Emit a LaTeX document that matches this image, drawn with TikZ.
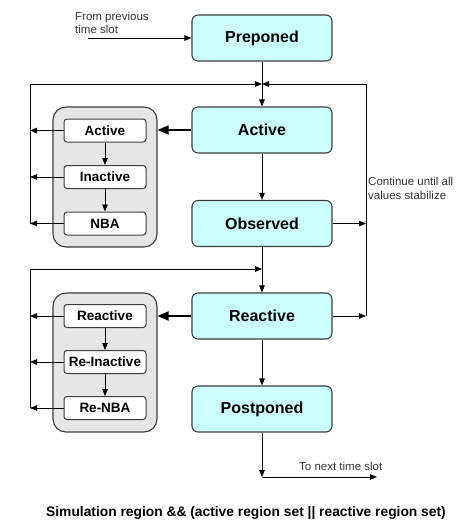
\documentclass[tikz,border=0pt]{standalone}
\usepackage{fontspec}
\setmainfont{Liberation Sans}
\usepackage{tikz}
\usetikzlibrary{positioning,calc,arrows.meta}
\definecolor{RegionCyan}{RGB}{204,255,255}
\definecolor{SetGray}{RGB}{230,230,230}
\definecolor{EdgeGray}{RGB}{60,60,60}
\definecolor{NoteGray}{RGB}{50,50,50}

\begin{document}
\begin{tikzpicture}[
    x=1pt, y=-1pt,
    >={Triangle[length=7pt,width=5.5pt]},
    region/.style={
        draw=EdgeGray,
        rounded corners=6pt,
        line width=1.1pt,
        align=center,
        minimum width=140pt,
        minimum height=46pt,
        fill=RegionCyan,
        font=\fontsize{16pt}{18pt}\selectfont\bfseries
    },
    regionset/.style={
        draw=EdgeGray,
        rounded corners=13pt,
        line width=1.1pt,
        minimum width=104pt,
        fill=SetGray
    },
    subregion/.style={
        draw=EdgeGray,
        rounded corners=3pt,
        line width=1pt,
        align=center,
        minimum width=82pt,
        minimum height=23pt,
        inner sep=1pt,
        fill=white,
        font=\fontsize{13.5pt}{15pt}\selectfont\bfseries
    },
    note/.style={
        align=left,
        inner sep=0pt,
        text=NoteGray,
        font=\fontsize{11.5pt}{13.5pt}\selectfont
    },
    arrow/.style={->, line width=0.8pt},
    fatarrow/.style={-{Triangle[length=11pt,width=9pt]}, line width=2pt}
]
\useasboundingbox (0,0) rectangle (474,527);

% main regions
\node[region] (pre) at (262,38) {Preponed};
\node[region] (act) at (262,130) {Active};
\node[region] (obs) at (262,223.5) {Observed};
\node[region] (rea) at (262,316) {Reactive};
\node[region] (post) at (262,409) {Postponed};

% region sets
\node[regionset, minimum height=140pt] (actset) at (105,177) {};
\node[regionset, minimum height=139pt] (reaset) at (105,362.5) {};

\node[subregion] (sact) at (105,130.5) {Active};
\node[subregion] (sinact) at (105,177) {Inactive};
\node[subregion] (snba) at (105,223.5) {NBA};
\node[subregion] (sreact) at (105,316) {Reactive};
\node[subregion] (sreinact) at (105,362) {Re-Inactive};
\node[subregion] (srenba) at (105,408) {Re-NBA};

\draw[arrow] (sact) -- (sinact);
\draw[arrow] (sinact) -- (snba);
\draw[arrow] (sreact) -- (sreinact);
\draw[arrow] (sreinact) -- (srenba);

% junctions and loop corners
\coordinate (join1) at (262,84);
\coordinate (join2) at (262,269);
\coordinate (loopl1) at (30,223.5);
\coordinate (loopl2) at (30,408);
\coordinate (loopr) at (366,316);
\coordinate (prev) at (88,38);
\coordinate (down) at (262,477);
\coordinate (next) at (377,477);

% main flow
\draw[arrow] (prev) -- (pre.west);
\draw[arrow] (pre) -- (act);
\draw[arrow] (act) -- (obs);
\draw[arrow] (obs) -- (rea);
\draw[arrow] (rea) -- (post);
\draw[fatarrow] (act.west) -- (actset.east |- act.west);
\draw[fatarrow] (rea.west) -- (reaset.east |- rea.west);

% iteration loops
\draw[arrow] (sact.west) -- (sact.west -| loopl1);
\draw[arrow] (sinact.west) -- (sinact.west -| loopl1);
\draw[arrow] (snba.west) -- (loopl1);
\draw[arrow] (loopl1) |- (join1);
\draw[arrow] (sreact.west) -- (sreact.west -| loopl2);
\draw[arrow] (sreinact.west) -- (sreinact.west -| loopl2);
\draw[arrow] (srenba.west) -- (loopl2);
\draw[arrow] (loopl2) |- (join2);
\draw[arrow] (obs.east) -- (obs.east -| loopr);
\draw[arrow] (rea.east) -- (loopr);
\draw[arrow] (loopr) |- (join1);

% exit
\draw[arrow] (post) -- (down);
\draw[arrow] (down) -- (next);

% notes
\node[note, anchor=west] (fromprev) at (75,23) {From previous\\time slot};
\node[note, anchor=west] (stable) at (368,188.5) {Continue until all\\values stabilize};
\node[note, anchor=west] (tonext) at (299,466) {To next time slot};
\node[font=\fontsize{13.8pt}{16pt}\selectfont\bfseries] (caption) at (246,513)
    {Simulation region \&\& (active region set || reactive region set)};

\end{tikzpicture}
\end{document}
